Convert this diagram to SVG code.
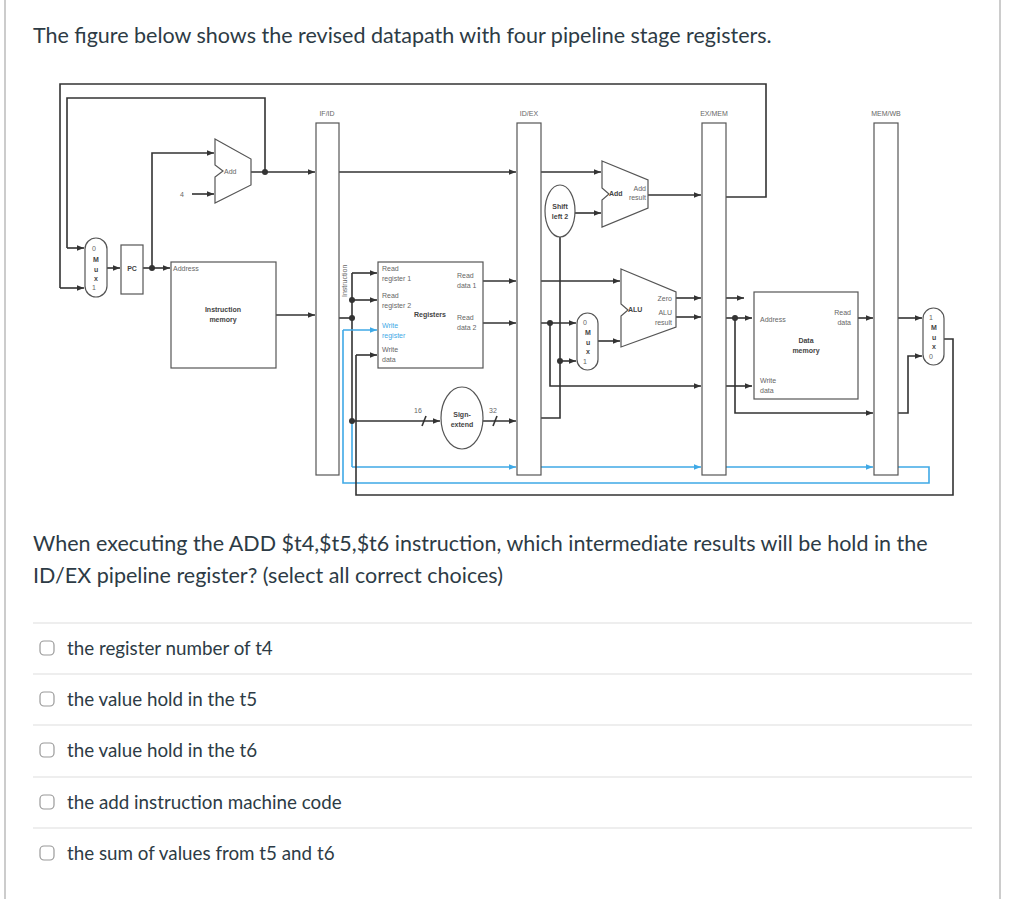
<svg xmlns="http://www.w3.org/2000/svg" width="1024" height="899" viewBox="0 0 1024 899">
<defs>
<marker id="a" viewBox="0 0 10 10" refX="10" refY="5" markerWidth="4.5" markerHeight="4.5" orient="auto" markerUnits="strokeWidth"><path d="M0,1 L10,5 L0,9 z" fill="#333"/></marker>
<marker id="ab" viewBox="0 0 10 10" refX="10" refY="5" markerWidth="4.5" markerHeight="4.5" orient="auto" markerUnits="strokeWidth"><path d="M0,1 L10,5 L0,9 z" fill="#3fa9e6"/></marker>
</defs>
<style>
.w{fill:none;stroke:#333;stroke-width:1.6}
.wa{fill:none;stroke:#333;stroke-width:1.6;marker-end:url(#a)}
.b{fill:none;stroke:#3fa9e6;stroke-width:1.6}
.ba{fill:none;stroke:#3fa9e6;stroke-width:1.6;marker-end:url(#ab)}
.box{fill:#fff;stroke:#555;stroke-width:1.2}
.t{font-family:"Liberation Sans",Arial,sans-serif;font-size:7px;fill:#666}
.tb{font-family:"Liberation Sans",Arial,sans-serif;font-size:7px;font-weight:bold;fill:#444}
.tl{font-family:"Liberation Sans",Arial,sans-serif;font-size:7px;fill:#3fa9e6}
.q{font-family:Lato,"Open Sans",sans-serif;font-size:21.5px;fill:#2d3b45}
.o{font-family:Lato,"Open Sans",sans-serif;font-size:18.8px;fill:#2d3b45}
.d{fill:#333}
.sep{stroke:#ddd;stroke-width:1.2}
.cb{fill:#fff;stroke:#999;stroke-width:1.2}
</style>
<rect width="1024" height="899" fill="#fff"/>
<line x1="5" y1="0" x2="5" y2="899" stroke="#aaa" stroke-width="1.2"/>
<line x1="1000" y1="0" x2="1000" y2="899" stroke="#aaa" stroke-width="1.2"/>
<text x="33" y="43" class="q">The figure below shows the revised datapath with four pipeline stage registers.</text>

<g id="connectors">
<polyline class="w" points="726,197 766,197 766,84 60,84 60,288"/>
<line class="wa" x1="60" y1="288" x2="84" y2="288"/>
<polyline class="w" points="265,172 265,98 67,98 67,248"/>
<line class="wa" x1="67" y1="248" x2="84" y2="248"/>
<line class="wa" x1="107" y1="268" x2="120" y2="268"/>
<line class="w" x1="143" y1="268" x2="152" y2="268"/>
<line class="wa" x1="152" y1="268" x2="170" y2="268"/>
<polyline class="wa" points="152,268 152,153 214,153"/>
<line class="wa" x1="192" y1="194" x2="214" y2="194"/>
<line class="wa" x1="251" y1="172" x2="315" y2="172"/>
<line class="wa" x1="276" y1="315" x2="315" y2="315"/>
<line class="wa" x1="339" y1="172" x2="516" y2="172"/>
<line class="w" x1="339" y1="318" x2="352" y2="318"/>
<line class="w" x1="352" y1="273" x2="352" y2="421"/>
<line class="wa" x1="352" y1="273" x2="377" y2="273"/>
<line class="wa" x1="352" y1="300" x2="377" y2="300"/>
<line class="wa" x1="352" y1="421" x2="440" y2="421"/>
<line class="w" x1="422" y1="426" x2="426" y2="416"/>
<line class="wa" x1="483" y1="421" x2="516" y2="421"/>
<line class="w" x1="493" y1="426" x2="497" y2="416"/>
<line class="wa" x1="483" y1="281" x2="516" y2="281"/>
<line class="wa" x1="483" y1="323" x2="516" y2="323"/>
<polyline class="b" points="352,421 352,467"/>
<line class="ba" x1="352" y1="467" x2="516" y2="467"/>
<line class="ba" x1="541" y1="467" x2="701" y2="467"/>
<line class="ba" x1="726" y1="467" x2="873" y2="467"/>
<polyline class="b" points="898,467 929,467 929,483 343,483 343,330"/>
<line class="ba" x1="343" y1="330" x2="377" y2="330"/>
<polyline class="w" points="944,339 953,339 953,495 356,495 356,355"/>
<line class="wa" x1="356" y1="355" x2="377" y2="355"/>
<line class="wa" x1="541" y1="172" x2="601" y2="172"/>
<line class="wa" x1="575" y1="213" x2="601" y2="213"/>
<polyline class="w" points="541,418 560,418 560,237"/>
<line class="wa" x1="560" y1="361" x2="576" y2="361"/>
<line class="wa" x1="648" y1="195" x2="701" y2="195"/>
<line class="wa" x1="541" y1="281" x2="620" y2="281"/>
<line class="wa" x1="541" y1="323" x2="576" y2="323"/>
<polyline class="wa" points="550,323 550,386 701,386"/>
<line class="wa" x1="598" y1="341" x2="620" y2="341"/>
<line class="wa" x1="676" y1="298" x2="701" y2="298"/>
<line class="wa" x1="676" y1="317" x2="701" y2="317"/>
<line class="wa" x1="726" y1="298" x2="744" y2="298"/>
<line class="wa" x1="726" y1="318" x2="752" y2="318"/>
<polyline class="wa" points="735,318 735,413 873,413"/>
<line class="wa" x1="726" y1="386" x2="752" y2="386"/>
<line class="wa" x1="858" y1="318" x2="873" y2="318"/>
<line class="wa" x1="898" y1="318" x2="922" y2="318"/>
<polyline class="wa" points="898,413 908,413 908,356 922,356"/>
<circle class="d" cx="265" cy="172" r="3"/>
<circle class="d" cx="152" cy="268" r="3"/>
<circle class="d" cx="352" cy="318" r="3"/>
<circle class="d" cx="352" cy="300" r="3"/>
<circle class="d" cx="352" cy="421" r="3"/>
<circle class="d" cx="550" cy="323" r="3"/>
<circle class="d" cx="560" cy="361" r="3"/>
<circle class="d" cx="735" cy="318" r="3"/>
</g>

<g id="pipeline-registers">
<rect class="box" x="316" y="123" width="23" height="352"/>
<rect class="box" x="517" y="123" width="24" height="352"/>
<rect class="box" x="702" y="123" width="24" height="352"/>
<rect class="box" x="874" y="123" width="24" height="352"/>
<text class="t" x="327" y="116" text-anchor="middle">IF/ID</text>
<text class="t" x="529" y="116" text-anchor="middle">ID/EX</text>
<text class="t" x="714" y="116" text-anchor="middle">EX/MEM</text>
<text class="t" x="886" y="116" text-anchor="middle">MEM/WB</text>
<text class="t" x="0" y="0" transform="translate(347,297) rotate(-90)">Instruction</text>
</g>

<g id="mux1">
<rect class="box" x="85" y="238" width="22" height="59" rx="11"/>
<text class="t" x="92" y="251">0</text><text class="tb" x="93" y="262">M</text><text class="tb" x="94" y="272">u</text><text class="tb" x="94" y="281">x</text><text class="t" x="92" y="290">1</text>
</g>
<g id="pc"><rect class="box" x="121" y="245" width="22" height="49"/><text class="tb" x="132" y="271" text-anchor="middle">PC</text></g>
<g id="add1">
<polygon class="box" points="215,139 251,159 251,185 215,203 215,177 223,171 215,165"/>
<text class="t" x="224" y="174">Add</text>
<text class="t" x="180" y="197">4</text>
</g>
<g id="imem">
<rect class="box" x="171" y="262" width="105" height="106"/>
<text class="t" x="173" y="271">Address</text>
<text class="tb" x="223" y="312" text-anchor="middle">Instruction</text>
<text class="tb" x="223" y="322" text-anchor="middle">memory</text>
</g>
<g id="registers">
<rect class="box" x="378" y="262" width="105" height="106"/>
<text class="t" x="382" y="271">Read</text><text class="t" x="382" y="281">register 1</text>
<text class="t" x="382" y="298">Read</text><text class="t" x="382" y="308">register 2</text>
<text class="tb" x="430" y="317" text-anchor="middle">Registers</text>
<text class="tl" x="382" y="328">Write</text><text class="tl" x="382" y="338">register</text>
<text class="t" x="382" y="352">Write</text><text class="t" x="382" y="362">data</text>
<text class="t" x="457" y="278">Read</text><text class="t" x="457" y="288">data 1</text>
<text class="t" x="457" y="320">Read</text><text class="t" x="457" y="330">data 2</text>
</g>
<g id="sign-extend">
<ellipse class="box" cx="462" cy="418" rx="21" ry="31"/>
<text class="tb" x="462" y="417" text-anchor="middle">Sign-</text>
<text class="tb" x="462" y="427" text-anchor="middle">extend</text>
<text class="t" x="414" y="413">16</text><text class="t" x="489" y="413">32</text>
</g>
<g id="shift-left">
<ellipse class="box" cx="560" cy="211" rx="15" ry="26"/>
<text class="tb" x="560" y="209" text-anchor="middle">Shift</text>
<text class="tb" x="560" y="219" text-anchor="middle">left 2</text>
</g>
<g id="add2">
<polygon class="box" points="602,161 648,180 648,208 602,227 602,200 609,194 602,188"/>
<text class="tb" x="609" y="196">Add</text>
<text class="t" x="646" y="191" text-anchor="end">Add</text>
<text class="t" x="646" y="200" text-anchor="end">result</text>
</g>
<g id="mux2">
<rect class="box" x="577" y="313" width="21" height="57" rx="10.5"/>
<text class="t" x="583" y="325">0</text><text class="tb" x="585" y="335">M</text><text class="tb" x="586" y="345">u</text><text class="tb" x="586" y="354">x</text><text class="t" x="583" y="364">1</text>
</g>
<g id="alu">
<polygon class="box" points="621,269 676,292 676,327 621,347 621,316 628,310 621,304"/>
<text class="tb" x="628" y="312">ALU</text>
<text class="t" x="672" y="301" text-anchor="end">Zero</text>
<text class="t" x="672" y="315" text-anchor="end">ALU</text>
<text class="t" x="672" y="325" text-anchor="end">result</text>
</g>
<g id="dmem">
<rect class="box" x="754" y="292" width="104" height="107"/>
<text class="t" x="760" y="322">Address</text>
<text class="t" x="851" y="315" text-anchor="end">Read</text><text class="t" x="851" y="325" text-anchor="end">data</text>
<text class="tb" x="806" y="343" text-anchor="middle">Data</text><text class="tb" x="806" y="353" text-anchor="middle">memory</text>
<text class="t" x="760" y="383">Write</text><text class="t" x="760" y="393">data</text>
</g>
<g id="mux3">
<rect class="box" x="923" y="308" width="21" height="57" rx="10.5"/>
<text class="t" x="929" y="320">1</text><text class="tb" x="931" y="330">M</text><text class="tb" x="932" y="340">u</text><text class="tb" x="932" y="349">x</text><text class="t" x="929" y="359">0</text>
</g>

<text x="33" y="551" class="q">When executing the ADD $t4,$t5,$t6 instruction, which intermediate results will be hold in the</text>
<text x="33" y="583" class="q">ID/EX pipeline register? (select all correct choices)</text>
<g id="options">
<line class="sep" x1="33" y1="623" x2="972" y2="623"/>
<line class="sep" x1="33" y1="674" x2="972" y2="674"/>
<line class="sep" x1="33" y1="725" x2="972" y2="725"/>
<line class="sep" x1="33" y1="777" x2="972" y2="777"/>
<line class="sep" x1="33" y1="828" x2="972" y2="828"/>
<rect class="cb" x="40" y="641" width="14" height="14" rx="4"/>
<rect class="cb" x="40" y="692" width="14" height="14" rx="4"/>
<rect class="cb" x="40" y="743" width="14" height="14" rx="4"/>
<rect class="cb" x="40" y="795" width="14" height="14" rx="4"/>
<rect class="cb" x="40" y="846" width="14" height="14" rx="4"/>
<text class="o" x="67" y="655">the register number of t4</text>
<text class="o" x="67" y="706">the value hold in the t5</text>
<text class="o" x="67" y="757">the value hold in the t6</text>
<text class="o" x="67" y="809">the add instruction machine code</text>
<text class="o" x="67" y="860">the sum of values from t5 and t6</text>
</g>
</svg>
